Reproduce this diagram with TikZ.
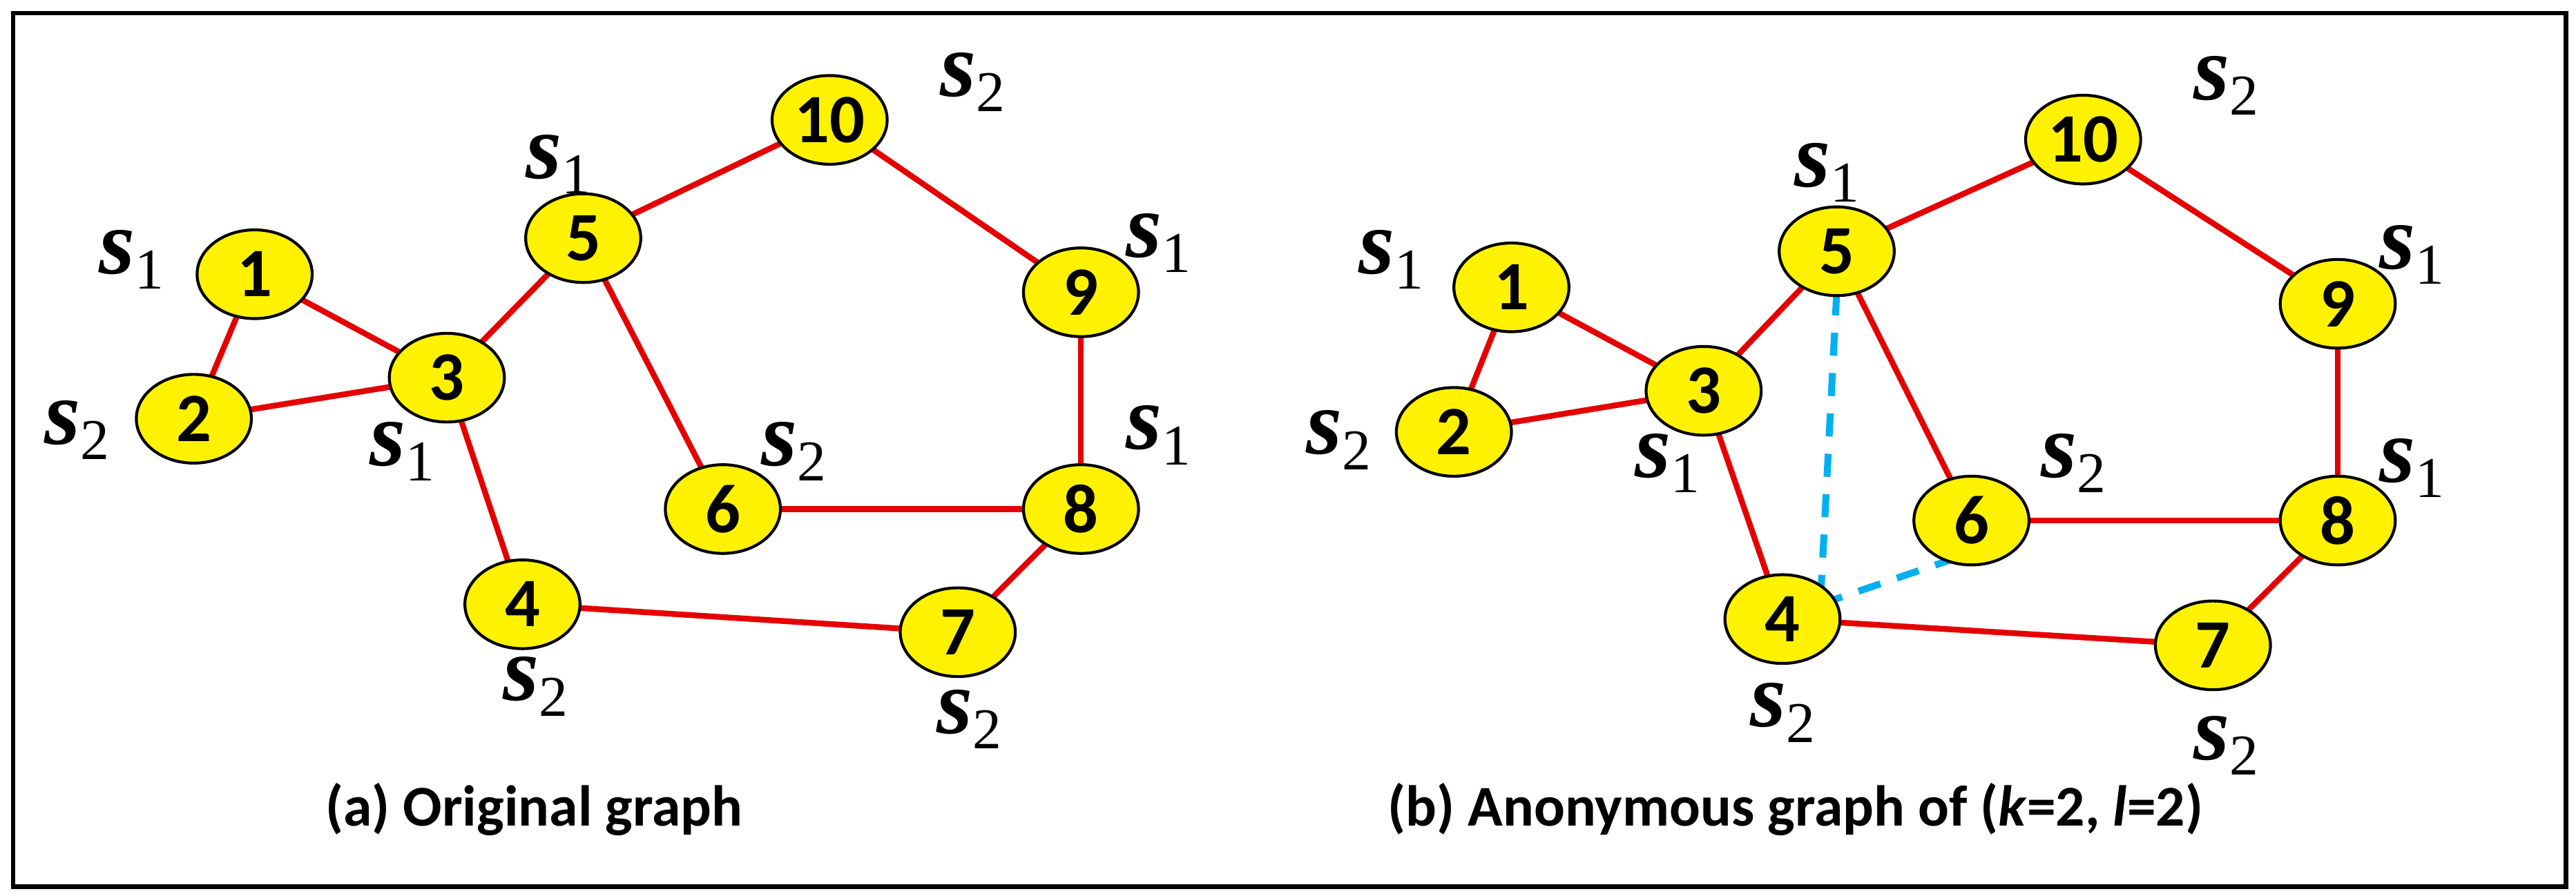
\documentclass[tikz,border=0pt]{standalone}
\usepackage{fontspec}
\setmainfont{Carlito}
\newfontfamily\labfont{Liberation Serif}
\usetikzlibrary{shapes.geometric}
\definecolor{dashblue}{RGB}{0,176,240}
\newcommand{\slab}[1]{{\labfont\bfseries\itshape s}\raisebox{-0.35ex}{\labfont\fontsize{10}{10}\selectfont #1}}
\begin{document}
\begin{tikzpicture}[x=0.01cm,y=-0.01cm,
  vert/.style={ellipse,draw=black,line width=0.5pt,fill=yellow,minimum width=0.7cm,minimum height=0.54cm,inner sep=0pt,font=\bfseries\fontsize{12}{12}\selectfont},
  edge/.style={draw=red!90!black,line width=1pt},
  dedge/.style={draw=dashblue,line width=1.2pt,dash pattern=on 4pt off 3pt},
  lab/.style={font=\fontsize{16}{16}\selectfont,inner sep=0pt},
  captext/.style={font=\bfseries\fontsize{10}{10}\selectfont}]
\useasboundingbox (0,0) rectangle (1568,545.6);
\draw[line width=0.8pt] (8,8) rectangle (1562,540);
\foreach \n/\x/\y in {1/155/167,2/118/255,3/272/230,5/355/145,10/505/73,9/658/178,8/658/310,6/440/310,4/318/368,7/583/385}
  \coordinate (a\n) at (\x,\y);
\foreach \n/\x/\y in {1/920/175,2/885/263,3/1037/238,5/1118/153,10/1268/85,9/1423/185,8/1423/317,6/1200/317,4/1085/377,7/1347/393}
  \coordinate (b\n) at (\x,\y);
\foreach \p in {a,b}{
  \foreach \u/\v in {1/2,1/3,2/3,3/5,5/10,10/9,9/8,5/6,6/8,3/4,4/7,7/8}
    \draw[edge] (\p\u) -- (\p\v);
}
\coordinate (b5b) at (1118,178);
\coordinate (b4r) at (1108,368);
\coordinate (b6sw) at (1190,340);
\draw[dedge] (b5b) -- (b4r);
\draw[dedge] (b4r) -- (b6sw);
\foreach \n/\x/\y in {1/155/167,2/118/255,3/272/230,5/355/145,10/505/73,9/658/178,8/658/310,6/440/310,4/318/368,7/583/385}
  \node[vert] (na\n) at (\x,\y) {\n};
\foreach \n/\x/\y in {1/920/175,2/885/263,3/1037/238,5/1118/153,10/1268/85,9/1423/185,8/1423/317,6/1200/317,4/1085/377,7/1347/393}
  \node[vert] (nb\n) at (\x,\y) {\n};
\node[lab] (la1) at (80,158) {\slab{1}};
\node[lab] (la2) at (47,262) {\slab{2}};
\node[lab] (la3) at (245,275) {\slab{1}};
\node[lab] (la5) at (340,100) {\slab{1}};
\node[lab] (la10) at (592,50) {\slab{2}};
\node[lab] (la9) at (705,148) {\slab{1}};
\node[lab] (la8) at (705,265) {\slab{1}};
\node[lab] (la6) at (483,275) {\slab{2}};
\node[lab] (la4) at (326,418) {\slab{2}};
\node[lab] (la7) at (590,438) {\slab{2}};
\node[lab] (lb1) at (847,158) {\slab{1}};
\node[lab] (lb2) at (815,268) {\slab{2}};
\node[lab] (lb3) at (1015,282) {\slab{1}};
\node[lab] (lb5) at (1112,105) {\slab{1}};
\node[lab] (lb10) at (1355,52) {\slab{2}};
\node[lab] (lb9) at (1468,155) {\slab{1}};
\node[lab] (lb8) at (1468,285) {\slab{1}};
\node[lab] (lb6) at (1262,282) {\slab{2}};
\node[lab] (lb4) at (1085,434) {\slab{2}};
\node[lab] (lb7) at (1355,454) {\slab{2}};
\node[captext] (capa) at (325,493) {(a) Original graph};
\node[captext] (capb) at (1093,493) {(b) Anonymous graph of (\textit{k}=2, \textit{l}=2)};
\end{tikzpicture}
\end{document}
